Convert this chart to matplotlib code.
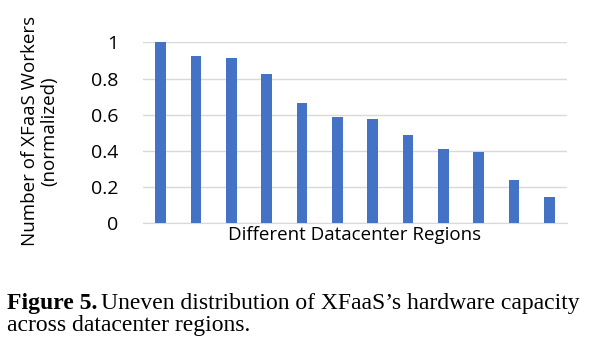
import matplotlib
matplotlib.use("Agg")
import matplotlib.pyplot as plt
import numpy as np

# normalized worker counts per datacenter region
regions = list(range(1, 13))
workers = [1.0, 0.925, 0.915, 0.825, 0.665, 0.59, 0.575, 0.49, 0.41, 0.395, 0.24, 0.145]
yticks = [0, 0.2, 0.4, 0.6, 0.8, 1]
ytick_labels = ["0", "0.2", "0.4", "0.6", "0.8", "1"]

fig = plt.figure(figsize=(5.92, 3.52), dpi=100)
ax = fig.add_axes([143 / 592, 1 - 223.3 / 352, 424 / 592, 181 / 352])

x = np.arange(len(regions))
ax.bar(x, workers, width=0.31, color="#4472C4", zorder=3)
ax.set_xlim(-0.5, len(regions) - 0.5)
ax.set_ylim(0, 1.001)
ax.set_yticks(yticks)
ax.set_yticklabels(ytick_labels, fontsize=14, family="Open Sans")
ax.set_xticks([])
ax.tick_params(axis="y", length=0, pad=18)
ax.grid(axis="y", color="#d9d9d9", lw=1, zorder=0)
ax.set_axisbelow(True)
for s in ["top", "right", "left"]:
    ax.spines[s].set_visible(False)
ax.spines["bottom"].set_color("#d9d9d9")

ax.set_xlabel("Different Datacenter Regions", fontsize=13.5, family="Open Sans", labelpad=2)
fig.text(40 / 592, 1 - 131 / 352, "Number of XFaaS Workers\n(normalized)", rotation=90,
         ha="center", va="center", fontsize=13.5, family="Open Sans", linespacing=1.1)

# caption: bold figure number followed by regular text
cap_x = 7 / 592
cap_fs = 17
t1 = fig.text(cap_x, 1 - 303 / 352, "Figure 5.", fontsize=cap_fs, family="Liberation Serif",
              fontweight="bold", va="center", ha="left")
fig.canvas.draw()
bb = t1.get_window_extent()
fig.text(bb.x1 / fig.bbox.width + 4 / 592, 1 - 303 / 352,
         "Uneven distribution of XFaaS’s hardware capacity",
         fontsize=cap_fs, family="Liberation Serif", va="center", ha="left")
fig.text(cap_x, 1 - 326 / 352, "across datacenter regions.",
         fontsize=cap_fs, family="Liberation Serif", va="center", ha="left")

fig.savefig("out.png", dpi=100)
